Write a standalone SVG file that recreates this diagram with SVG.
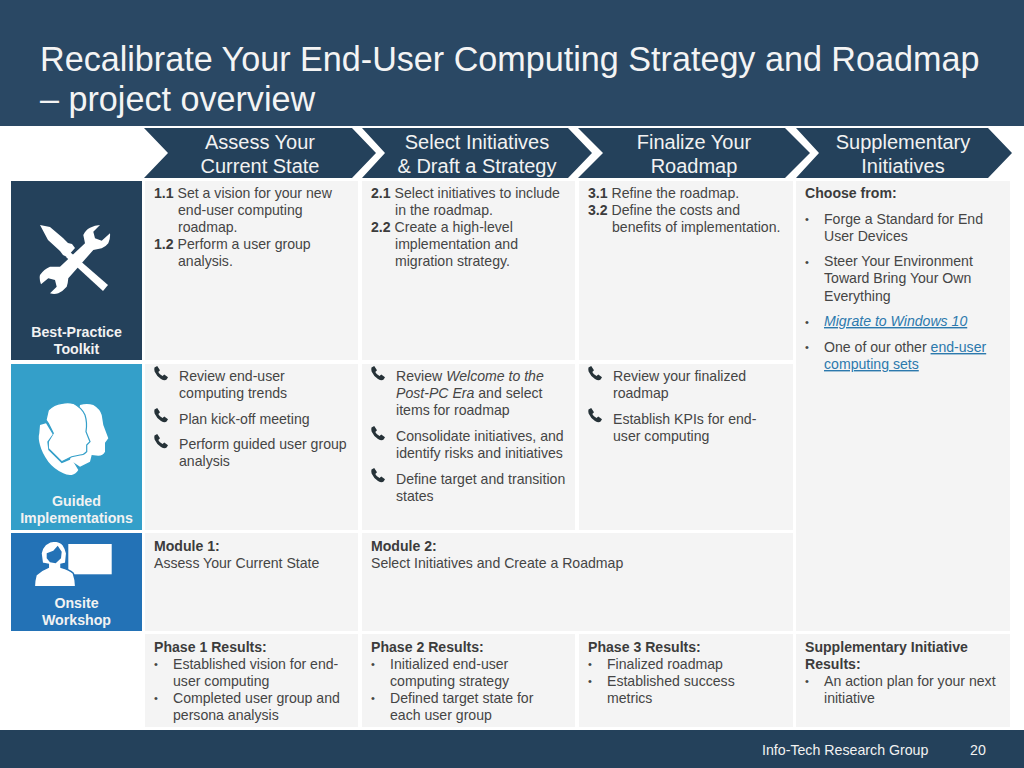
<svg xmlns="http://www.w3.org/2000/svg" width="1024" height="768" viewBox="0 0 1024 768">
<style>
text{font-family:"Liberation Sans",Arial,sans-serif}
.navy{fill:#24415b}
.cell{fill:#f4f4f4}
.t{font-size:14.1px;fill:#454545}
.b{font-weight:bold;fill:#3c3c3c}
.d{font-size:11px}
.h{font-size:20px;fill:#f2f2f2;text-anchor:middle}
.l{font-size:14.2px;font-weight:bold;fill:#f2f2f2;text-anchor:middle}
.a{fill:#2c79ad;text-decoration:underline}
.w{fill:#fff}
</style>
<defs>
<path id="phone" fill="#263238" d="M0.5 1.5 L3.2 0 L6 4.2 L4.3 6 Q5.5 8.7 8.5 10 L10.3 8.4 L14 11.2 L12.6 13.6 Q10.5 15 7 13 Q2.5 10 0.6 5.5 Q0 3 0.5 1.5Z"/>
</defs>
<rect width="1024" height="768" fill="#fff"/>
<g id="header">
<rect fill="#2a4864" width="1024" height="126"/>
<text x="40" y="71" font-size="34.15" fill="#f4f4f4">Recalibrate Your End-User Computing Strategy and Roadmap</text>
<text x="40" y="111" font-size="34.15" fill="#f4f4f4">– project overview</text>
</g>
<g id="phase-1"><path class="navy" d="M144 128H352L376 153L352 178H144L168 153Z"/><text class="h" x="260" y="149">Assess Your</text><text class="h" x="260" y="173">Current State</text></g>
<g id="phase-2"><path class="navy" d="M362 128H568L592 153L568 178H362L385 153Z"/><text class="h" x="477" y="149">Select Initiatives</text><text class="h" x="477" y="173">&amp; Draft a Strategy</text></g>
<g id="phase-3"><path class="navy" d="M578 128H785L810 153L785 178H578L603 153Z"/><text class="h" x="694" y="149">Finalize Your</text><text class="h" x="694" y="173">Roadmap</text></g>
<g id="phase-4"><path class="navy" d="M796 128H988L1012 153L988 178H796L819 153Z"/><text class="h" x="903" y="149">Supplementary</text><text class="h" x="903" y="173">Initiatives</text></g>

<g id="toolkit">
<rect class="navy" x="11" y="181" width="131" height="179"/>
<g class="w">
<path d="M40 225 L50 227 L63 238 L68 243 L72 244 L75 248 L67 257 L63 255 L60 251 L48 240 Z"/>
<path d="M70 252 L108 285 L103 291 L66 257 Z"/>
<path d="M100 225 L93.300 231.700 L95 238.300 L101.700 240.700 L110 233.300 Q110.500 239 108.300 243.300 Q105.500 247 101.700 248.300 L93.300 250 L68.300 278.300 Q68 283 66.700 286.700 Q63 291 58.300 293.300 Q54 294.500 50 293.300 L56.700 286.700 L55 280 L48.300 278.300 L41 284.300 Q39 279 40 275 Q44 269 50 266.700 L60 266.700 L85 243.300 L83.300 235 Q85.500 230 90 227.700 Q95 225 100 225Z"/>
</g>
<text class="l" x="76.500" y="337">Best-Practice</text>
<text class="l" x="76.500" y="354">Toolkit</text>
</g>
<g id="guided">
<rect x="11" y="364" width="131" height="166" fill="#349fc9"/>
<g class="w">
<path d="M80 405 Q87 403 93.300 405 Q100 409 101.700 415 L103.300 425 L108.300 438.300 L105 442.700 L105 451.700 Q103 455.700 98.300 455.700 L91.700 455 L90 461.700 L80 466.700 L70 460 Z"/>
<path d="M61.700 403.300 Q68 402 73.300 403.300 Q82 408 85 415 Q87.500 423 86 431.700 L90 441.700 L86.700 445 L86.700 451.700 Q84 455 80 455 L71.700 456.700 L61.700 461.700 L48.300 448.300 L48.300 441.700 L53.300 433.300 L48.300 423.300 L46 420 L48.300 410 Q54 404 61.700 403.300Z" stroke="#349fc9" stroke-width="1.200"/>
<path d="M40 425 L46 423.300 L52.700 434.300 L47.300 441.700 L48.300 450 L61.700 463.300 L71.700 459 L78.300 470 Q76 474 71.700 475 Q67 475.500 63.300 473.300 Q54 469 48.300 461.700 Q42 453 40 445 Q38 438 39.300 433.300 Z"/>
</g>
<text class="l" x="76.500" y="506">Guided</text>
<text class="l" x="76.500" y="523">Implementations</text>
</g>
<g id="onsite">
<rect x="11" y="533" width="131" height="98" fill="#2372b6"/>
<rect class="w" x="68.300" y="544" width="43.400" height="30.300"/>
<path class="w" stroke="#2372b6" stroke-width="1.500" d="M55 541 Q60.500 541.500 63.300 545 Q66 549 66.700 553.300 L65.700 563.300 L61 564.300 L61 567.300 Q70 570 73.300 573.300 Q75.500 579 75.700 586.700 L34.300 586.700 Q34.500 580 36 575 Q41 570 48.300 567.300 L48.300 564.300 L42.300 563.300 L41 553.300 Q42 548 45.700 544.300 Q50 541 55 541Z"/>
<path fill="#2372b6" d="M46.700 553.300 L53.300 550.700 L57.700 545.700 L61.700 551.700 L61 558.300 L55.700 563.300 L50 562.300 L46.700 558.300Z"/>
<text class="l" x="76.500" y="608">Onsite</text>
<text class="l" x="76.500" y="625">Workshop</text>
</g>

<g id="cells" class="cell">
<rect x="145" y="181" width="213" height="179"/>
<rect x="362" y="181" width="213" height="179"/>
<rect x="579" y="181" width="214" height="179"/>
<rect x="796" y="181" width="214" height="450"/>
<rect x="145" y="364" width="213" height="166"/>
<rect x="362" y="364" width="213" height="166"/>
<rect x="579" y="364" width="214" height="166"/>
<rect x="145" y="533" width="213" height="98"/>
<rect x="362" y="533" width="431" height="98"/>
<rect x="145" y="634" width="213" height="93"/>
<rect x="362" y="634" width="213" height="93"/>
<rect x="579" y="634" width="214" height="93"/>
<rect x="796" y="634" width="214" height="93"/>
</g>

<g id="toolkit-text" class="t">
<text x="154" y="198"><tspan class="b">1.1</tspan> Set a vision for your new</text>
<text x="178" y="215">end-user computing</text>
<text x="178" y="232">roadmap.</text>
<text x="154" y="249"><tspan class="b">1.2</tspan> Perform a user group</text>
<text x="178" y="266">analysis.</text>
<text x="371" y="198"><tspan class="b">2.1</tspan> Select initiatives to include</text>
<text x="395" y="215">in the roadmap.</text>
<text x="371" y="232"><tspan class="b">2.2</tspan> Create a high-level</text>
<text x="395" y="249">implementation and</text>
<text x="395" y="266">migration strategy.</text>
<text x="588" y="198"><tspan class="b">3.1</tspan> Refine the roadmap.</text>
<text x="588" y="215"><tspan class="b">3.2</tspan> Define the costs and</text>
<text x="612" y="232">benefits of implementation.</text>
</g>
<g id="supplementary-text" class="t">
<text class="b" x="805" y="198">Choose from:</text>
<text class="d" x="805" y="223">•</text><text x="824" y="224">Forge a Standard for End</text>
<text x="824" y="241">User Devices</text>
<text class="d" x="805" y="266">•</text><text x="824" y="266">Steer Your Environment</text>
<text x="824" y="283">Toward Bring Your Own</text>
<text x="824" y="301">Everything</text>
<text class="d" x="805" y="326">•</text><text class="a" x="824" y="326" font-style="italic">Migrate to Windows 10</text>
<text class="d" x="805" y="351">•</text><text x="824" y="352">One of our other <tspan class="a">end-user</tspan></text>
<text class="a" x="824" y="369">computing sets</text>
</g>
<g id="guided-text" class="t">
<use href="#phone" x="154" y="366"/><use href="#phone" x="154" y="408"/><use href="#phone" x="154" y="434"/>
<text x="179" y="381">Review end-user</text>
<text x="179" y="398">computing trends</text>
<text x="179" y="424">Plan kick-off meeting</text>
<text x="179" y="449">Perform guided user group</text>
<text x="179" y="466">analysis</text>
<use href="#phone" x="371" y="366"/><use href="#phone" x="371" y="426"/><use href="#phone" x="371" y="468"/>
<text x="396" y="381">Review <tspan font-style="italic">Welcome to the</tspan></text>
<text x="396" y="398"><tspan font-style="italic">Post-PC Era</tspan> and select</text>
<text x="396" y="415">items for roadmap</text>
<text x="396" y="441">Consolidate initiatives, and</text>
<text x="396" y="458">identify risks and initiatives</text>
<text x="396" y="484">Define target and transition</text>
<text x="396" y="501">states</text>
<use href="#phone" x="588" y="366"/><use href="#phone" x="588" y="408"/>
<text x="613" y="381">Review your finalized</text>
<text x="613" y="398">roadmap</text>
<text x="613" y="424">Establish KPIs for end-</text>
<text x="613" y="441">user computing</text>
</g>
<g id="module-text" class="t">
<text class="b" x="154" y="551">Module 1:</text>
<text x="154" y="568">Assess Your Current State</text>
<text class="b" x="371" y="551">Module 2:</text>
<text x="371" y="568">Select Initiatives and Create a Roadmap</text>
</g>
<g id="results-text" class="t">
<text class="b" x="154" y="652">Phase 1 Results:</text>
<text class="d" x="154" y="668">•</text><text x="173" y="669">Established vision for end-</text>
<text x="173" y="686">user computing</text>
<text class="d" x="154" y="702">•</text><text x="173" y="703">Completed user group and</text>
<text x="173" y="720">persona analysis</text>
<text class="b" x="371" y="652">Phase 2 Results:</text>
<text class="d" x="371" y="668">•</text><text x="390" y="669">Initialized end-user</text>
<text x="390" y="686">computing strategy</text>
<text class="d" x="371" y="702">•</text><text x="390" y="703">Defined target state for</text>
<text x="390" y="720">each user group</text>
<text class="b" x="588" y="652">Phase 3 Results:</text>
<text class="d" x="588" y="668">•</text><text x="607" y="669">Finalized roadmap</text>
<text class="d" x="588" y="685">•</text><text x="607" y="686">Established success</text>
<text x="607" y="703">metrics</text>
<text class="b" x="805" y="652">Supplementary Initiative</text>
<text class="b" x="805" y="669">Results:</text>
<text class="d" x="805" y="685">•</text><text x="824" y="686">An action plan for your next</text>
<text x="824" y="703">initiative</text>
</g>
<g id="footer">
<rect class="navy" y="730" width="1024" height="38"/>
<text x="762" y="755" font-size="14.200" fill="#f2f2f2">Info-Tech Research Group</text>
<text x="970" y="755" font-size="14.200" fill="#f2f2f2">20</text>
</g>
</svg>
